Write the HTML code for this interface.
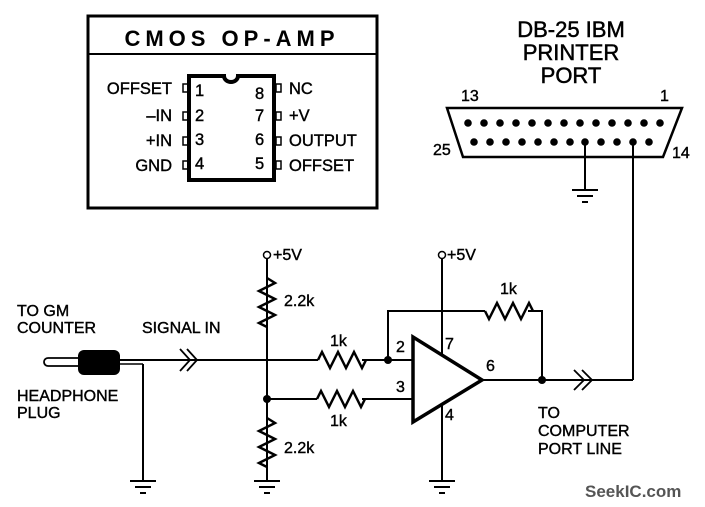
<!DOCTYPE html>
<html><head><meta charset="utf-8"><style>
html,body{margin:0;padding:0;background:#fff}
svg{display:block}
text{font-family:"Liberation Sans",Arial,sans-serif;fill:#000}
</style></head><body>
<svg width="705" height="507" viewBox="0 0 705 507" xmlns="http://www.w3.org/2000/svg">
<g fill="none" stroke="#000" stroke-width="2">
<rect x="88" y="16" width="289" height="192" stroke-width="3"/>
<line x1="88" y1="54" x2="377" y2="54" stroke-width="2"/>
<path d="M189 76 H224 A7 6 0 0 0 238 76 H274 V180 H189 Z" stroke-width="4"/>
<g stroke-width="1.5">
<rect x="183" y="84" width="5" height="8"/><rect x="183" y="112" width="5" height="8"/>
<rect x="183" y="137" width="5" height="8"/><rect x="183" y="161" width="5" height="8"/>
<rect x="276" y="84" width="5" height="8"/><rect x="276" y="112" width="5" height="8"/>
<rect x="276" y="137" width="5" height="8"/><rect x="276" y="161" width="5" height="8"/>
</g>
<path d="M447 108 H682 L663 157 H463 Z" stroke-width="2.5"/>
<line x1="585" y1="142" x2="585" y2="190"/>
<line x1="633" y1="142" x2="633" y2="380"/>
<line x1="572" y1="190" x2="598" y2="190"/><line x1="577" y1="196" x2="593" y2="196"/><line x1="582" y1="202" x2="588" y2="202"/>
<line x1="267" y1="259" x2="267" y2="480"/>
<circle cx="267" cy="255" r="3.5" stroke-width="1.5"/>
<path d="M267 278 l8 5 -16 8 16 8 -16 8 16 8 -16 8 8 4" stroke-width="2.5"/>
<path d="M267 418 l8 5 -16 8 16 8 -16 8 16 8 -16 8 8 4" stroke-width="2.5"/>
<path d="M120 360 H318 M362 360 H413"/>
<path d="M318 360 l4 -8 8 16 8 -16 8 16 8 -16 8 16 4 -8" stroke-width="2.5"/>
<path d="M267 399 H317 M362 399 H413"/>
<path d="M317 399 l4 -8 8 16 8 -16 8 16 8 -16 8 16 4 -8" stroke-width="2.5"/>
<path d="M388 360 V311 H485 M528 311 H542 V380"/>
<path d="M485 311 l4 8 8 -16 8 16 8 -16 8 16 8 -16 4 8" stroke-width="2.5"/>
<path d="M413 337 V422 L482 380 Z" stroke-width="3.5"/>
<line x1="442" y1="259" x2="442" y2="355"/>
<circle cx="442" cy="255" r="3.5" stroke-width="1.5"/>
<line x1="442" y1="405" x2="442" y2="480"/>
<path d="M482 380 H633"/>
<path d="M574 370 l10 10 -10 10 M582 370 l10 10 -10 10" stroke-width="1.8"/>
<path d="M180 349 l10 11 -10 11 M187 349 l10 11 -10 11" stroke-width="1.8"/>
<line x1="143" y1="364" x2="143" y2="480"/>
<path d="M78 358 H48 A4 4 0 0 0 48 366 H78" stroke-width="1.8"/>
<line x1="120" y1="364" x2="143" y2="364" stroke-width="1.5"/>
<g>
<line x1="130" y1="481" x2="156" y2="481"/><line x1="135" y1="487" x2="151" y2="487"/><line x1="140" y1="493" x2="146" y2="493"/>
<line x1="254" y1="481" x2="280" y2="481"/><line x1="259" y1="487" x2="275" y2="487"/><line x1="264" y1="493" x2="270" y2="493"/>
<line x1="429" y1="481" x2="455" y2="481"/><line x1="434" y1="487" x2="450" y2="487"/><line x1="439" y1="493" x2="445" y2="493"/>
</g>
</g>
<rect x="78" y="350" width="42" height="25" rx="6" fill="#000"/>
<g fill="#000">
<circle cx="267" cy="399" r="4"/><circle cx="388" cy="360" r="4"/><circle cx="542" cy="380" r="4"/>
<circle cx="468" cy="123" r="3.8"/><circle cx="484" cy="123" r="3.8"/><circle cx="500" cy="123" r="3.8"/><circle cx="516" cy="123" r="3.8"/><circle cx="532" cy="123" r="3.8"/><circle cx="548" cy="123" r="3.8"/><circle cx="564" cy="123" r="3.8"/><circle cx="580" cy="123" r="3.8"/><circle cx="596" cy="123" r="3.8"/><circle cx="612" cy="123" r="3.8"/><circle cx="628" cy="123" r="3.8"/><circle cx="644" cy="123" r="3.8"/><circle cx="660" cy="123" r="3.8"/>
<circle cx="474" cy="142" r="3.8"/><circle cx="490" cy="142" r="3.8"/><circle cx="506" cy="142" r="3.8"/><circle cx="522" cy="142" r="3.8"/><circle cx="538" cy="142" r="3.8"/><circle cx="554" cy="142" r="3.8"/><circle cx="570" cy="142" r="3.8"/><circle cx="585" cy="142" r="3.8"/><circle cx="601" cy="142" r="3.8"/><circle cx="617" cy="142" r="3.8"/><circle cx="633" cy="142" r="3.8"/><circle cx="649" cy="142" r="3.8"/>
</g>
<text x="232" y="46" font-size="22" font-weight="bold" text-anchor="middle" letter-spacing="5">CMOS OP-AMP</text>
<g font-size="16.5" stroke="#000" stroke-width="0.4">
<text x="172" y="94" text-anchor="end">OFFSET</text>
<text x="172" y="121" text-anchor="end">–IN</text>
<text x="172" y="146" text-anchor="end">+IN</text>
<text x="172" y="171" text-anchor="end">GND</text>
<text x="289" y="94">NC</text>
<text x="289" y="121">+V</text>
<text x="289" y="146">OUTPUT</text>
<text x="289" y="171">OFFSET</text>
<text x="195" y="96">1</text><text x="195" y="121">2</text><text x="195" y="145">3</text><text x="195" y="169">4</text>
<text x="255" y="99">8</text><text x="255" y="121">7</text><text x="255" y="145">6</text><text x="255" y="169">5</text>
</g>
<g font-size="22" text-anchor="middle" stroke="#000" stroke-width="0.5">
<text x="571" y="37">DB-25 IBM</text>
<text x="571" y="60">PRINTER</text>
<text x="571" y="83">PORT</text>
</g>
<g font-size="16" stroke="#000" stroke-width="0.4">
<text x="461" y="101">13</text><text x="660" y="101">1</text>
<text x="433" y="155">25</text><text x="672" y="158">14</text>
<text x="273" y="260">+5V</text><text x="447" y="260">+5V</text>
<text x="284" y="306">2.2k</text><text x="284" y="453">2.2k</text>
<text x="330" y="346">1k</text><text x="330" y="426">1k</text><text x="500" y="294">1k</text>
<text x="396" y="352">2</text><text x="396" y="392">3</text>
<text x="445" y="349">7</text><text x="486" y="371">6</text><text x="445" y="420">4</text>
<text x="17" y="316">TO GM</text><text x="17" y="333">COUNTER</text>
<text x="142" y="333">SIGNAL IN</text>
<text x="17" y="401">HEADPHONE</text><text x="17" y="418">PLUG</text>
<text x="538" y="418">TO</text><text x="538" y="436">COMPUTER</text><text x="538" y="454">PORT LINE</text>
</g>
<text x="585" y="497" font-size="17" font-weight="bold" style="fill:#555">SeekIC.com</text>
</svg>
</body></html>
